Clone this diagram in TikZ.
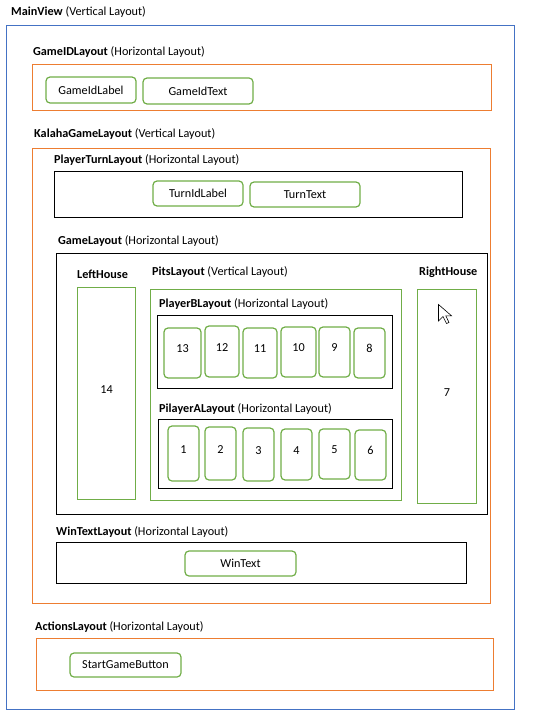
\documentclass[tikz,border=0pt]{standalone}
\usepackage{fontspec}
\setmainfont{Carlito}
\definecolor{viewblue}{HTML}{4472C4}
\definecolor{layoutorange}{HTML}{ED7D31}
\definecolor{widgetgreen}{HTML}{70AD47}

\begin{document}
\begin{tikzpicture}[x=1pt,y=-1pt]
  \tikzset{title/.style = {anchor=west,inner sep=0pt,font=\fontsize{12.2}{14}\selectfont}}
  \tikzset{frame/.style = {draw,line width=1pt,anchor=north west,inner sep=0pt,outer sep=0pt}}
  \tikzset{viewframe/.style = {frame,draw=viewblue}}
  \tikzset{orangeframe/.style = {frame,draw=layoutorange}}
  \tikzset{blackframe/.style = {frame,draw=black}}
  \tikzset{house/.style = {frame,draw=widgetgreen,font=\fontsize{12.2}{14}\selectfont,text height=8pt,text depth=9pt}}
  \tikzset{widget/.style = {draw=widgetgreen,line width=1.2pt,rounded corners=4pt,inner sep=0pt,font=\fontsize{12.2}{14}\selectfont}}
  \tikzset{pit/.style = {widget,text height=8pt,text depth=9pt}}
  \useasboundingbox (0,0) rectangle (546,714);

\node[viewframe,minimum width=508,minimum height=684] (mainview) at (6.5,25.5) {};
\node[title] (mainviewtitle) at (11,12) {\textbf{MainView} (Vertical Layout)};

\node[orangeframe,minimum width=459,minimum height=46] (gameidlayout) at (32.5,64.5) {};
\node[title] (gameidtitle) at (33,52) {\textbf{GameIDLayout} (Horizontal Layout)};
\node[widget,minimum width=90,minimum height=26] (gameidlabel) at (91,90) {GameIdLabel};
\node[widget,minimum width=110,minimum height=26] (gameidtext) at (198,91) {GameIdText};

\node[orangeframe,minimum width=458,minimum height=455] (kalahalayout) at (32.5,148.5) {};
\node[title] (kalahatitle) at (34,134) {\textbf{KalahaGameLayout} (Vertical Layout)};

\node[blackframe,minimum width=408,minimum height=46] (turnlayout) at (54.5,171.5) {};
\node[title] (turntitle) at (54,160) {\textbf{PlayerTurnLayout} (Horizontal Layout)};
\node[widget,minimum width=90,minimum height=25] (turnidlabel) at (198,193.5) {TurnIdLabel};
\node[widget,minimum width=110,minimum height=25] (turntext) at (305,194.5) {TurnText};

\node[blackframe,minimum width=431,minimum height=261] (gamelayout) at (56.5,253.5) {};
\node[title] (gametitle) at (58,241) {\textbf{GameLayout} (Horizontal Layout)};

\node[house,minimum width=58,minimum height=212] (lefthouse) at (77.5,287.5) {14};
\node[title] (lefthousetitle) at (77,274) {\textbf{LeftHouse}};
\node[house,minimum width=59,minimum height=214] (righthouse) at (417.5,289.5) {7};
\node[title] (righthousetitle) at (419,272) {\textbf{RightHouse}};

\node[frame,draw=widgetgreen,minimum width=251,minimum height=211] (pitslayout) at (150.5,289.5) {};
\node[title] (pitstitle) at (152,272) {\textbf{PitsLayout} (Vertical Layout)};

\node[blackframe,minimum width=235,minimum height=73] (playerblayout) at (157.5,315.5) {};
\node[title] (playerbtitle) at (159,304) {\textbf{PlayerBLayout} (Horizontal Layout)};
\node[pit,minimum width=37,minimum height=50] (pit13) at (182.5,353) {13};
\node[pit,minimum width=34,minimum height=51] (pit12) at (222,351.5) {12};
\node[pit,minimum width=34,minimum height=50] (pit11) at (260,353) {11};
\node[pit,minimum width=35,minimum height=50] (pit10) at (298.5,352) {10};
\node[pit,minimum width=31,minimum height=50] (pit9) at (334.5,352) {9};
\node[pit,minimum width=31,minimum height=50] (pit8) at (369.5,353) {8};

\node[blackframe,minimum width=234,minimum height=69] (playeralayout) at (158.5,419.5) {};
\node[title] (playeratitle) at (159,409) {\textbf{PilayerALayout} (Horizontal Layout)};
\node[pit,minimum width=31,minimum height=55] (pit1) at (183.5,453.5) {1};
\node[pit,minimum width=31,minimum height=53] (pit2) at (220.5,453.5) {2};
\node[pit,minimum width=31,minimum height=53] (pit3) at (258.5,454.5) {3};
\node[pit,minimum width=31,minimum height=51] (pit4) at (296.5,454.5) {4};
\node[pit,minimum width=31,minimum height=50] (pit5) at (334.5,454) {5};
\node[pit,minimum width=31,minimum height=50] (pit6) at (370.5,455) {6};

\node[blackframe,minimum width=410,minimum height=41] (wintextlayout) at (56.5,542.5) {};
\node[title] (wintitle) at (56,532) {\textbf{WinTextLayout} (Horizontal Layout)};
\node[widget,minimum width=111,minimum height=25] (wintext) at (240.5,563.5) {WinText};

\node[orangeframe,minimum width=457,minimum height=52] (actionslayout) at (36.5,638.5) {};
\node[title] (actionstitle) at (35,627) {\textbf{ActionsLayout} (Horizontal Layout)};
\node[widget,minimum width=111,minimum height=24] (startgamebutton) at (125.5,665) {StartGameButton};

% mouse pointer
\draw[fill=white,line width=0.6pt,line join=miter] (438.5,304.5) -- (438.5,321) -- (443,316.5) -- (446.5,323.5)
  -- (449,322.5) -- (445.8,315.8) -- (451.5,315.8) -- cycle;

\end{tikzpicture}
\end{document}
